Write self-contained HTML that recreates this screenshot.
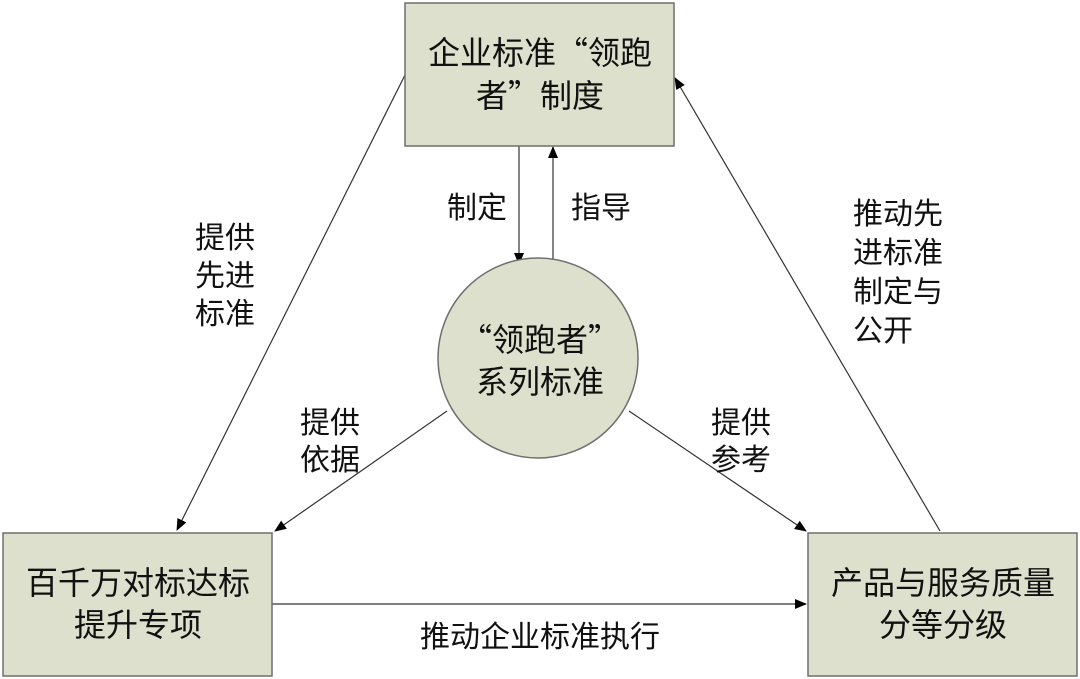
<!DOCTYPE html>
<html><head><meta charset="utf-8"><style>
html,body{margin:0;padding:0;background:#fff;}
svg{display:block;}
text{font-family:"Noto Sans CJK SC","WenQuanYi Zen Hei",sans-serif;font-size:30px;fill:#111;}
.b{font-size:32px;}
</style></head><body>
<svg width="1080" height="679" viewBox="0 0 1080 679" xmlns="http://www.w3.org/2000/svg">
<defs>
<marker id="a" markerWidth="12" markerHeight="10" refX="11" refY="5" orient="auto" markerUnits="userSpaceOnUse">
<path d="M0,0 L12,5 L0,10 z" fill="#000"/></marker>
</defs>
<g stroke="#333" stroke-width="1.2" fill="none">
<line x1="405" y1="75" x2="177" y2="530" marker-end="url(#a)"/>
<line x1="940" y1="531" x2="675" y2="78" marker-end="url(#a)"/>
<line x1="519" y1="146" x2="519" y2="264" marker-end="url(#a)"/>
<line x1="553" y1="265" x2="553" y2="147" marker-end="url(#a)"/>
<line x1="447" y1="411" x2="275" y2="531" marker-end="url(#a)"/>
<line x1="629" y1="411" x2="806" y2="531" marker-end="url(#a)"/>
<line x1="272" y1="604" x2="806" y2="604" marker-end="url(#a)"/>
</g>
<g fill="#dde0cc" stroke="#6f6f6f" stroke-width="1.5">
<rect x="405" y="3" width="269" height="143"/>
<rect x="3" y="533" width="269" height="143"/>
<rect x="808" y="533" width="269" height="143"/>
<circle cx="538" cy="358" r="100"/>
</g>
<g text-anchor="middle">
<text class="b" x="540" y="64">企业标准“领跑</text>
<text class="b" x="540" y="107">者”制度</text>
<text class="b" x="138" y="594">百千万对标达标</text>
<text class="b" x="138" y="636">提升专项</text>
<text class="b" x="943" y="594">产品与服务质量</text>
<text class="b" x="943" y="636">分等分级</text>
<text class="b" x="540" y="351">“领跑者”</text>
<text class="b" x="540" y="393">系列标准</text>
<text x="477" y="218">制定</text>
<text x="601" y="218">指导</text>
<text x="225" y="248">提供</text>
<text x="225" y="286">先进</text>
<text x="225" y="324">标准</text>
<text x="330" y="433">提供</text>
<text x="330" y="470">依据</text>
<text x="741" y="433">提供</text>
<text x="741" y="470">参考</text>
<text x="898" y="224">推动先</text>
<text x="898" y="263">进标准</text>
<text x="898" y="302">制定与</text>
<text x="883" y="341">公开</text>
<text x="540" y="647">推动企业标准执行</text>
</g>
</svg>
</body></html>
